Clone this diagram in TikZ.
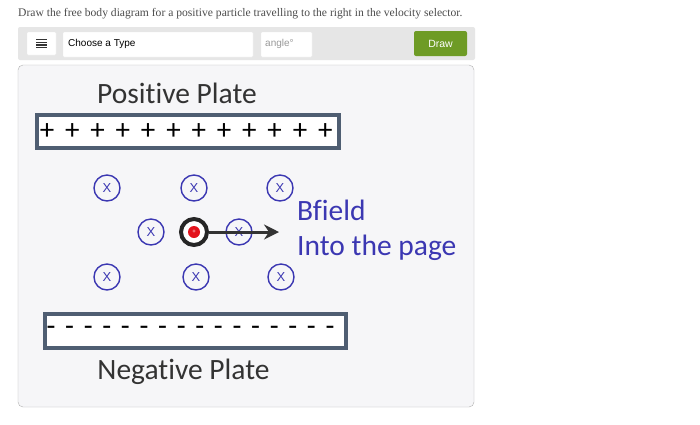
\documentclass[tikz,border=0pt]{standalone}
\usepackage{fontspec}
\setmainfont{Liberation Serif}
\newfontfamily\calib[Ligatures=NoCommon]{Carlito}
\newfontfamily\uifont{Liberation Sans}
\usetikzlibrary{arrows.meta}
\definecolor{platecol}{HTML}{4F5E72}
\definecolor{fieldblue}{HTML}{3B37B2}
\definecolor{panelbg}{HTML}{F6F6F8}
\definecolor{barbg}{HTML}{E6E6E6}
\definecolor{drawgreen}{HTML}{6E9B25}
\definecolor{inkgrey}{HTML}{333333}
\definecolor{redcore}{HTML}{E3131C}
\begin{document}
\begin{tikzpicture}[x=1pt,y=-1pt,
    plate/.style={draw=platecol,line width=4pt,fill=white,inner sep=0pt},
    big/.style={font=\calib\fontsize{29.5}{35}\selectfont,inner sep=0pt},
    charge/.style={font=\calib\fontsize{29}{30}\selectfont,inner sep=0pt,text=black},
    xmark/.style={circle,draw=fieldblue,line width=1.4pt,minimum size=26pt,inner sep=0pt,
        text=fieldblue,font=\uifont\fontsize{13}{13}\selectfont},
    uibox/.style={fill=white,draw=black!8,rounded corners=1pt,inner sep=0pt},
    uitext/.style={font=\uifont\fontsize{10}{12}\selectfont,inner sep=0pt}]
    \useasboundingbox (0,0) rectangle (700,424);
    \fill[white] (0,0) rectangle (700,424);

    % question and toolbar
    \node[anchor=base west,inner sep=0pt,text=black!70,font=\fontsize{11.6}{13}\selectfont] (question) at (18,16)
        {Draw the free body diagram for a positive particle travelling to the right in the velocity selector.};
    \fill[barbg,rounded corners=2pt] (18,27) rectangle (475,60);
    \node[uibox,minimum width=29pt,minimum height=23pt] (menu) at (41.5,43.5) {};
    \foreach \k in {0,...,3}
        \draw[black!80,line width=1.3pt] (36,39.5+2.7*\k) -- (47,39.5+2.7*\k);
    \node[uibox,minimum width=190pt,minimum height=25pt] (typebox) at (158,44.5) {};
    \node[uitext,anchor=west] (typetext) at (68,44) {Choose a Type};
    \node[uibox,minimum width=51pt,minimum height=25pt] (anglebox) at (286.5,44.5) {};
    \node[uitext,anchor=west,text=black!40] (angletext) at (265,44) {angle°};
    \node[fill=drawgreen,rounded corners=2pt,minimum width=53pt,minimum height=25pt,
        text=white,font=\uifont\fontsize{10.5}{12}\selectfont] (drawbtn) at (440.5,43.5) {Draw};

    % panel
    \draw[black!30,fill=panelbg,rounded corners=5pt] (18,65) rectangle (474,407);

    % plates
    \node[big,text=inkgrey] (ptitle) at (177,93) {Positive Plate};
    \node[plate,minimum width=302pt,minimum height=33pt] (pplate) at (188,131.5) {};
    \foreach \i in {0,...,11}
        \node[charge] (plus\i) at (47+25.3*\i,131.5) {+};
    \node[plate,minimum width=301pt,minimum height=34pt] (nplate) at (195.5,331) {};
    \foreach \i in {0,...,15}
        \node[charge] (minus\i) at (51+18.6*\i,331) {-};
    \node[big,text=inkgrey] (ntitle) at (183.5,372) {Negative Plate};

    % magnetic field into the page
    \node[xmark] (b1) at (107,188) {X};
    \node[xmark] (b2) at (194,188) {X};
    \node[xmark] (b3) at (280,188) {X};
    \node[xmark] (b4) at (151,232) {X};
    \node[xmark] (b5) at (239,232) {X};
    \node[xmark] (b6) at (107,277) {X};
    \node[xmark] (b7) at (196,277) {X};
    \node[xmark] (b8) at (281,277) {X};
    \node[big,text=fieldblue,anchor=west,align=left] (blabel) at (297,230)
        {Bfield\\Into the page};

    % particle and velocity
    \node[circle,draw=black!85,line width=4pt,fill=white,minimum size=26pt,inner sep=0pt] (part) at (194,232) {};
    \node[circle,fill=redcore,minimum size=12pt,inner sep=0pt,text=white,
        font=\uifont\fontsize{6}{6}\selectfont] (core) at (part) {+};
    \coordinate (tip) at (279,232);
    \draw[inkgrey,line width=3pt,-{Stealth[length=15pt,width=15pt,inset=5pt]}] (part.east) -- (tip);
\end{tikzpicture}
\end{document}
